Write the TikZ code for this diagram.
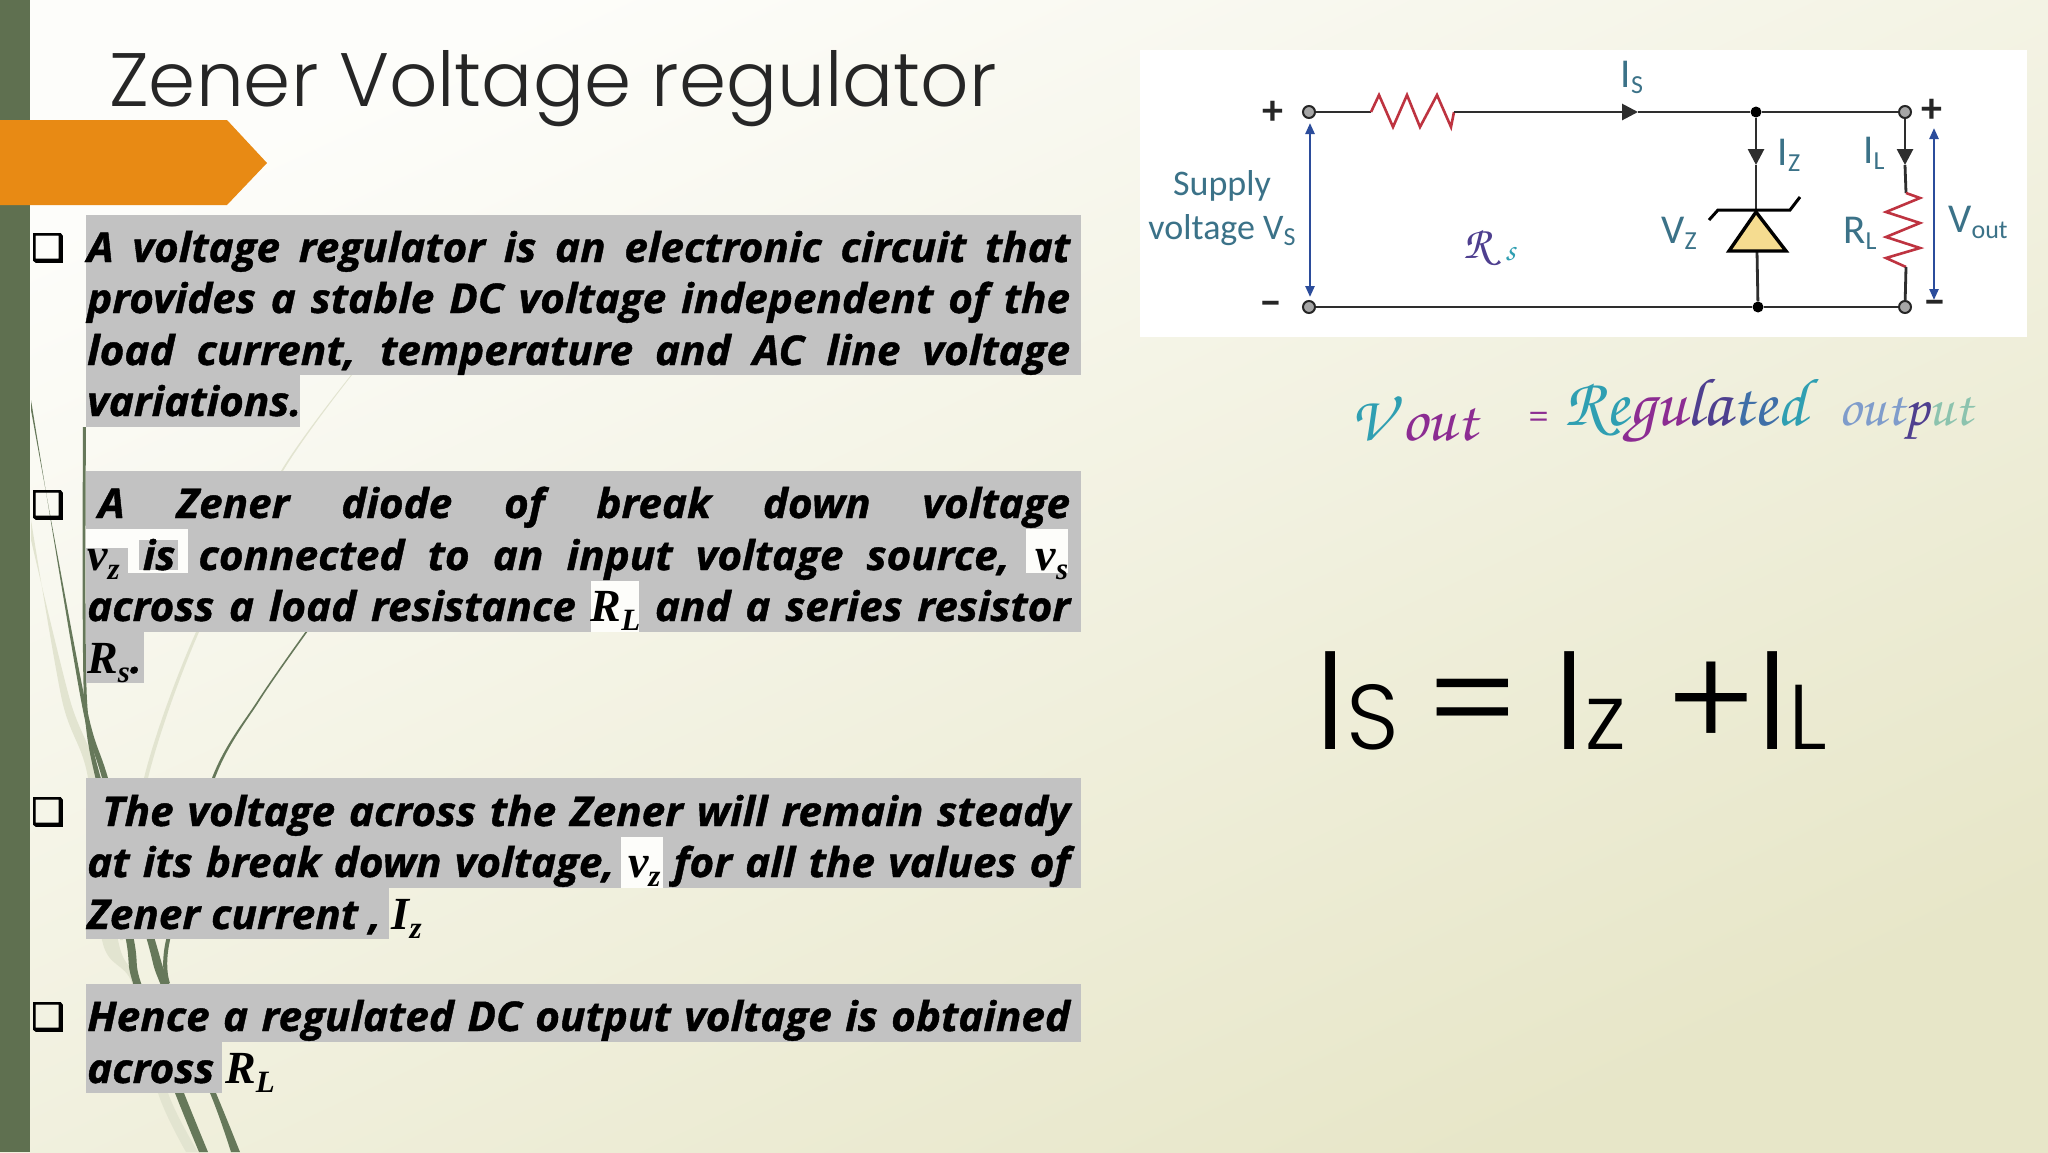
\documentclass[tikz,border=0pt]{standalone}
\usepackage[T1]{fontenc}
\usepackage{fontspec}
\usepackage{tikz}
\usetikzlibrary{arrows, arrows.meta, positioning}
\setmainfont{Carlito}
\newfontfamily\titlefont{Poppins Light}
\newfontfamily\bodyfont[BoldItalicFeatures={FakeStretch=1.03,FakeBold=1}]{Open Sans}
\newfontfamily\varfont{Liberation Serif}
\newfontfamily\markfont[FakeBold=2.5]{DejaVu Sans}
\newcommand{\handfont}[1]{\usefont{T1}{pzc}{mb}{it}\fontsize{#1}{#1}\selectfont}
\newcommand{\mvar}[2]{{\varfont\bfseries\itshape\fontsize{46}{46}\selectfont #1\raisebox{-9pt}{\fontsize{31}{31}\selectfont #2}}}
\newcommand{\csub}[2]{#1\raisebox{-6pt}{\fontsize{26}{26}\selectfont #2}}
\definecolor{bgtop}{HTML}{FDFDFA}
\definecolor{bgend}{HTML}{E7E6C8}
\definecolor{barcol}{HTML}{5F7050}
\definecolor{wispcol}{HTML}{66785A}
\definecolor{palecol}{HTML}{E2E4D0}
\definecolor{orangecol}{HTML}{E88A14}
\definecolor{bandcol}{HTML}{C2C2C2}
\definecolor{labelcol}{HTML}{3B7288}
\definecolor{rescol}{HTML}{BE3340}
\definecolor{volcol}{HTML}{2B4C9B}
\definecolor{zenercol}{HTML}{F5DC90}
\definecolor{inkteal}{HTML}{2F9FB2}
\definecolor{inkpurple}{HTML}{8C2C92}
\definecolor{inkindigo}{HTML}{4E3F8F}
\definecolor{inkblue}{HTML}{3F6FA8}
\definecolor{inkpale}{HTML}{7F9CCB}
\definecolor{inkgreen}{HTML}{8CC3AE}
\begin{document}
\begin{tikzpicture}[x = 1pt, y = -1pt]
\tikzstyle{band}=[fill = bandcol]
\tikzstyle{gapbox}=[fill = bgtop]
\tikzstyle{wisp}=[fill = wispcol]
\tikzstyle{palewisp}=[fill = palecol]
\tikzstyle{bodyline}=[anchor = base west, inner sep = 0pt, font = \bodyfont\bfseries\itshape\fontsize{41}{41}\selectfont]
\tikzstyle{boxmark}=[inner sep = 0pt, font = \markfont\fontsize{37}{37}\selectfont]
\tikzstyle{wire}=[draw = black!82, line width = 2.8pt]
\tikzstyle{post}=[wire, -{Triangle[length = 16pt, width = 16pt]}]
\tikzstyle{zig}=[draw = rescol, line width = 2.6pt, line join = miter]
\tikzstyle{volt}=[draw = volcol, line width = 2.4pt, {Triangle[length = 11pt, width = 9pt]}-{Triangle[length = 11pt, width = 9pt]}]
\tikzstyle{port}=[circle, draw = black!85, fill = black!35, line width = 2pt, minimum size = 12pt, inner sep = 0pt]
\tikzstyle{joint}=[circle, fill = black, minimum size = 11pt, inner sep = 0pt]
\tikzstyle{cirlabel}=[inner sep = 0pt, text = labelcol, font = \fontsize{36}{36}\selectfont]
\tikzstyle{biglabel}=[inner sep = 0pt, text = labelcol, font = \fontsize{41}{41}\selectfont]
\tikzstyle{signlabel}=[inner sep = 0pt, text = black!85, font = \bfseries\fontsize{42}{42}\selectfont]
\tikzstyle{ink}=[anchor = base west, inner sep = 0pt]
\useasboundingbox (0,0) rectangle (2048,1152);
\shade[left color = bgtop, right color = bgend, shading angle = 25] (0,0) rectangle (2048,1152);
\fill[palewisp] plot[smooth] coordinates {(351,375) (281,471) (196,632) (144,778) (120,940)} -- plot[smooth] coordinates {(123,940) (148,778) (199,632) (283,471) (352,375)} -- cycle;
\fill[palewisp] plot[smooth] coordinates {(31,520) (62,700) (88,778) (102,940) (132,983) (158,1093) (186,1152)} -- plot[smooth] coordinates {(198,1152) (168,1093) (138,983) (118,940) (98,778) (70,700) (31,540)} -- cycle;
\fill[wisp] plot[smooth] coordinates {(31,400) (81,700) (102,778) (147,940) (160,983) (210,1093) (231,1152)} -- plot[smooth] coordinates {(240,1152) (216,1093) (169,983) (155,940) (108,778) (85,700) (31,410)} -- cycle;
\fill[wisp] plot[smooth] coordinates {(83,427) (84,700) (100,800) (126,940) (133,983) (175,1093) (199,1152)} -- plot[smooth] coordinates {(208,1152) (184,1093) (141,983) (134,940) (106,800) (87,700) (86,427)} -- cycle;
\fill[wisp] plot[smooth] coordinates {(306,631) (258,700) (212,778) (166,940) (166,983)} -- plot[smooth] coordinates {(170,983) (170,940) (215,778) (260,700) (308,631)} -- cycle;
\fill[barcol] (0,0) rectangle (30,1152);
\fill[orangecol] (0,120) -- (227,120) -- (267,163) -- (227,205) -- (0,205) -- cycle;
\node[anchor = base west, inner sep = 0pt, text = black!85, font = \titlefont\fontsize{75.7}{76}\selectfont] (title) at (109,106) {Zener Voltage regulator};
\fill[band] (86,215) rectangle (1081,375);
\fill[band] (86,375) rectangle (300,427);
\fill[band] (86,471) rectangle (1081,632);
\fill[band] (86,632) rectangle (144,683);
\fill[gapbox] (86,529) rectangle (188,573);
\fill[band] (86,548) rectangle (128,573);
\fill[band] (139,540) rectangle (178,570);
\fill[gapbox] (1026,529) rectangle (1068,573);
\fill[gapbox] (591,581) rectangle (639,632);
\fill[band] (86,778) rectangle (1081,888);
\fill[band] (86,888) rectangle (389,939);
\fill[gapbox] (621,837) rectangle (663,888);
\fill[band] (86,984) rectangle (1081,1042);
\fill[band] (86,1042) rectangle (222,1093);
\node[boxmark] (m1) at (48,248) {❑};
\node[boxmark] (m2) at (48,505) {❑};
\node[boxmark] (m3) at (48,812) {❑};
\node[boxmark] (m4) at (48,1017) {❑};
\node[bodyline] (a1) at (87,262) {\makebox[983pt][s]{A voltage regulator is an electronic circuit that}};
\node[bodyline] (a2) at (87,313) {\makebox[983pt][s]{provides a stable DC voltage independent of the}};
\node[bodyline] (a3) at (87,365) {\makebox[983pt][s]{load current, temperature and AC line voltage}};
\node[bodyline] (a4) at (87,416) {variations.};
\node[bodyline] (b1) at (98,518) {\makebox[972pt][s]{A Zener diode of break down voltage}};
\node[bodyline] (b2) at (87,570) {\makebox[981pt][s]{\mvar{v}{z} is connected to an input voltage source, \mvar{v}{s}}};
\node[bodyline] (b3) at (87,621) {\makebox[983pt][s]{across a load resistance \mvar{R}{L} and a series resistor}};
\node[bodyline] (b4) at (87,673) {\mvar{R}{s}.};
\node[bodyline] (c1) at (102,826) {\makebox[968pt][s]{The voltage across the Zener will remain steady}};
\node[bodyline] (c2) at (87,877) {\makebox[983pt][s]{at its break down voltage, \mvar{v}{z} for all the values of}};
\node[bodyline] (c3) at (87,929) {Zener current , \mvar{I}{z}};
\node[bodyline] (d1) at (87,1031) {\makebox[983pt][s]{Hence a regulated DC output voltage is obtained}};
\node[bodyline] (d2) at (87,1083) {across \mvar{R}{L}};
\fill[white] (1140,50) rectangle (2027,337);
\node[port] (t1) at (1309,112) {};
\node[port] (t2) at (1309,307) {};
\node[port] (t3) at (1905,112) {};
\node[port] (t4) at (1905,307) {};
\node[joint] (j1) at (1756,112) {};
\node[joint] (j2) at (1758,307) {};
\coordinate (ra) at (1371,112);
\coordinate (rb) at (1454,112);
\coordinate (ai) at (1638,112);
\coordinate (az) at (1756,165);
\coordinate (al) at (1905,165);
\coordinate (la) at (1906,193);
\coordinate (lb) at (1906,267);
\coordinate (za) at (1756,212);
\coordinate (zb) at (1729,251);
\coordinate (zc) at (1786,251);
\coordinate (zd) at (1757,251);
\coordinate (va) at (1310,123);
\coordinate (vb) at (1310,297);
\coordinate (vc) at (1934,128);
\coordinate (vd) at (1934,300);
\draw[wire] (t1) -- (ra);
\draw[zig] (ra) -- ++(8,-17) -- ++(14,32) -- ++(14,-32) -- ++(13,32) -- ++(17,-32) -- ++(14,32) -- (rb);
\draw[post] (rb) -- (ai);
\draw[wire] (ai) -- (j1);
\draw[wire] (j1) -- (t3);
\draw[post] (j1) -- (az);
\draw[wire] (az) -- (za);
\draw[post] (t3) -- (al);
\draw[wire] (al) -- (la);
\draw[zig] (la) -- ++(14,5) -- ++(-34,14) -- ++(34,11) -- ++(-34,14) -- ++(34,11) -- ++(-34,10) -- (lb);
\draw[wire] (lb) -- (t4);
\draw[wire] (t2) -- (j2);
\draw[wire] (j2) -- (t4);
\draw[wire] (zd) -- (j2);
\filldraw[draw = black, fill = zenercol, line width = 3.4pt, line join = miter] (za) -- (zb) -- (zc) -- cycle;
\draw[draw = black, line width = 3pt] (1709,220) -- (1718,210) -- (1790,210) -- (1800,197);
\draw[volt] (va) -- (vb);
\draw[volt] (vc) -- (vd);
\node[signlabel] (s1) at (1273,113) {+};
\node[signlabel] (s2) at (1271,309) {−};
\node[signlabel] (s3) at (1932,111) {+};
\node[signlabel] (s4) at (1935,308) {−};
\node[biglabel] (is) at (1632,77) {\csub{I}{S}};
\node[biglabel] (iz) at (1789,155) {\csub{I}{Z}};
\node[biglabel] (il) at (1874,153) {\csub{I}{L}};
\node[biglabel] (vz) at (1679,233) {\csub{V}{Z}};
\node[biglabel] (rl) at (1860,233) {\csub{R}{L}};
\node[biglabel] (vo) at (1978,222) {\csub{V}{out}};
\node[cirlabel] (s5) at (1222,186) {Supply};
\node[cirlabel] (s6) at (1222,230) {voltage \csub{V}{S}};
\node[ink] (h1) at (1463,258) {\handfont{46}\color{inkindigo}R};
\node[ink] (h2) at (1505,260) {\handfont{32}\color{inkteal}s};
\node[ink] (h3) at (1350,440) {\handfont{64}\color{inkteal}V\kern10pt\color{inkpurple}out};
\node[ink] (h4) at (1526,425) {\handfont{40}\color{inkpurple}=};
\node[ink] (h5) at (1564,425) {\handfont{68}\color{inkteal}Re\color{inkpurple}gu\color{inkindigo}la\color{inkblue}te\color{inkteal}d};
\node[ink] (h6) at (1838,425) {\handfont{56}\color{inkpale}out\color{inkindigo}p\color{inkgreen}ut};
\node[anchor = base west, inner sep = 0pt, font = \titlefont\fontsize{140}{140}\selectfont] (eq) at (1314,749) {I\fontsize{92}{92}\selectfont S\hspace{27pt}\fontsize{140}{140}\selectfont =\hspace{33pt}I\fontsize{92}{92}\selectfont z\hspace{39pt}\fontsize{140}{140}\selectfont +I\fontsize{92}{92}\selectfont L};
\end{tikzpicture}
\end{document}
